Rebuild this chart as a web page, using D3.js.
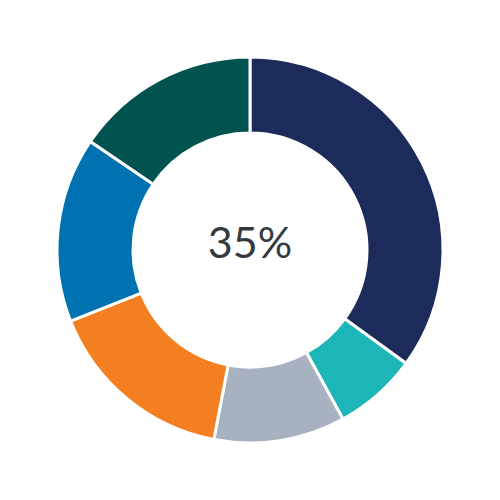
<!DOCTYPE html>
<html>
<head>
<meta charset="utf-8">
<script src="https://cdn.jsdelivr.net/npm/d3@7"></script>
<style>
  html, body { margin: 0; padding: 0; background: #fff; }
  svg { display: block; }
</style>
</head>
<body>
<svg id="chart" width="500" height="500"></svg>
<script>
// slice data, clockwise from 12 o'clock
const categories = ["A", "B", "C", "D", "E", "F"];
const values = [35, 7, 11, 16, 15.5, 15.5];
const colors = ["#1c2b5a", "#1cb5b8", "#a7b1bf", "#f37f20", "#0072b2", "#00534f"];
const centerLabel = "35%";

const svg = d3.select("#chart");
const width = 500, height = 500;
const outerR = 193, innerR = 117;

const g = svg.append("g").attr("transform", `translate(${width / 2}, ${height / 2})`);

const pie = d3.pie().sort(null).value(d => d.value);
const arc = d3.arc().innerRadius(innerR).outerRadius(outerR);

const data = categories.map((c, i) => ({ name: c, value: values[i], color: colors[i] }));

g.selectAll("path")
  .data(pie(data))
  .join("path")
  .attr("d", arc)
  .attr("fill", d => d.data.color)
  .attr("stroke", "#fff")
  .attr("stroke-width", 3)
  .attr("stroke-linejoin", "miter");

g.append("text")
  .attr("x", 0)
  .attr("y", 8)
  .attr("text-anchor", "middle")
  .attr("font-family", "Lato, 'Open Sans', sans-serif")
  .attr("font-weight", 400)
  .attr("font-size", 43)
  .attr("fill", "#353a42")
  .text(centerLabel);
</script>
</body>
</html>
